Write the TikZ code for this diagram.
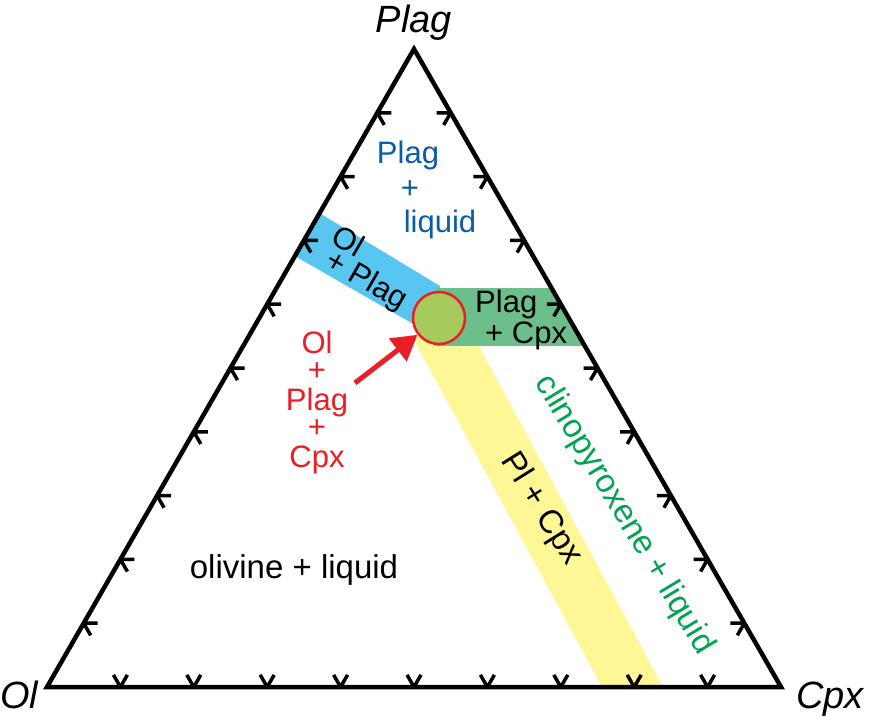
\documentclass[tikz,border=0pt]{standalone}
\usepackage{fontspec}
\setmainfont{Liberation Sans}
\usetikzlibrary{arrows.meta,calc}
\definecolor{bandblue}{RGB}{88,198,240}
\definecolor{bandgreen}{RGB}{108,190,138}
\definecolor{bandyellow}{RGB}{255,246,150}
\definecolor{junction}{RGB}{166,202,92}
\definecolor{myred}{RGB}{234,30,38}
\definecolor{txtblue}{RGB}{10,92,170}
\definecolor{txtgreen}{RGB}{0,164,80}
\tikzset{
  edge/.style={line width=4.5pt, line join=miter},
  tickmark/.style={line width=3.5pt, line join=round},
  vlabel/.style={font=\fontsize{38}{42}\selectfont\itshape, inner sep=0pt},
  txt/.style={font=\fontsize{31}{34}\selectfont, inner sep=0pt},
  bigtxt/.style={font=\fontsize{33}{36}\selectfont, inner sep=0pt},
  redarrow/.style={draw=myred, line width=5pt, -{Triangle[length=25pt,width=28pt]}},
}
\begin{document}
\begin{tikzpicture}[x=1pt,y=-1pt]
\useasboundingbox (0,0) rectangle (872,721);
\coordinate (Ol) at (47,687);
\coordinate (Cx) at (781,687);
\coordinate (Pl) at (414,49);
% bands
\begin{scope}
  \clip (Ol) -- (Cx) -- (Pl) -- cycle;
  \fill[bandyellow] (414,340) -- (454,300) -- (663,687) -- (602,687) -- cycle;
  \fill[bandblue] (278,188) -- (440,286) -- (439,318) -- (415,325) -- (253,232) -- cycle;
  \fill[bandgreen] (436,288) rectangle (620,346);
\end{scope}
\node[circle, minimum size=52pt, inner sep=0pt, fill=junction, draw=myred, line width=2.5pt] (jn) at (439,318) {};
% triangle
\draw[edge] (Ol) -- (Cx) -- (Pl) -- cycle;
\foreach \k in {1,...,9}{
  \coordinate (tb) at ($(Ol)!\k/10!(Cx)$);
  \draw[tickmark] ($(tb)+(-60:14)$) -- (tb) -- ($(tb)+(-120:14)$);
  \coordinate (tl) at ($(Ol)!\k/10!(Pl)$);
  \draw[tickmark] ($(tl)+(0:14)$) -- (tl) -- ($(tl)+(60:14)$);
  \coordinate (tr) at ($(Cx)!\k/10!(Pl)$);
  \draw[tickmark] ($(tr)+(180:14)$) -- (tr) -- ($(tr)+(120:14)$);
}
% vertex labels
\node[vlabel, anchor=base] (lPl) at (414,32) {Plag};
\node[vlabel, anchor=base west] (lOl) at (0,708) {Ol};
\node[vlabel, anchor=base west] (lCx) at (796,708) {Cpx};
% field labels
\node[txt, text=txtblue, anchor=base] (b1) at (408,163) {Plag};
\node[txt, text=txtblue] (b2) at (410,190) {+};
\node[txt, text=txtblue, anchor=base] (b3) at (440,232) {liquid};
\node[bigtxt, anchor=base] (ol) at (294,578) {olivine + liquid};
\node[txt, anchor=base west, rotate=-30] (op1) at (329,242) {Ol};
\node[txt, anchor=base west, rotate=-30] (op2) at (323,266) {+ Plag};
\node[txt, anchor=base west] (pc1) at (475,312) {Plag};
\node[txt, anchor=base west] (pc2) at (485,343) {+ Cpx};
\node[txt, text=myred, anchor=base] (r1) at (317,353) {Ol};
\node[txt, text=myred] (r2) at (317,372) {+};
\node[txt, text=myred, anchor=base] (r3) at (317,410) {Plag};
\node[txt, text=myred] (r4) at (317,429) {+};
\node[txt, text=myred, anchor=base] (r5) at (317,467) {Cpx};
\node[bigtxt, text=txtgreen, rotate=-59] (cl) at (624,515) {clinopyroxene + liquid};
\node[bigtxt, rotate=-58] (plc) at (541,509) {Pl + Cpx};
% arrow
\coordinate (atail) at (355,383);
\draw[redarrow] (atail) -- (jn.218);
\end{tikzpicture}
\end{document}
